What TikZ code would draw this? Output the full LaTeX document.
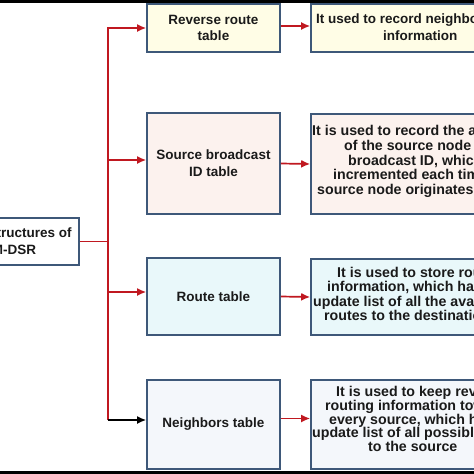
\documentclass[tikz,border=0pt]{standalone}
\usepackage{fontspec}
\setmainfont{Liberation Sans}
\usetikzlibrary{arrows.meta}
\begin{document}
\begin{tikzpicture}[x=1pt,y=-1pt,
  tbl/.style={draw=edgecol, line width=1.6pt, minimum width=133pt, inner sep=0pt, align=center, text=txtcol, font=\fontsize{13.5}{16.7}\selectfont\bfseries},
  descbox/.style={draw=edgecol, line width=1.6pt, minimum width=229pt, inner sep=0pt},
  desctext/.style={anchor=west, align=left, inner sep=0pt, text=txtcol, font=\fontsize{14.2}{14.6}\selectfont\bfseries},
  link/.style={draw=linkred, line width=1.7pt, -{Latex[length=9pt,width=8pt]}}]
\definecolor{edgecol}{HTML}{3E5879}
\definecolor{txtcol}{HTML}{1A1A1A}
\definecolor{linkred}{HTML}{C01820}
\definecolor{revfill}{HTML}{FFFDE6}
\definecolor{srcfill}{HTML}{FCF2EE}
\definecolor{rtfill}{HTML}{E9F8FA}
\definecolor{nbfill}{HTML}{F4F7FB}
\useasboundingbox (0,0) rectangle (474,474);
\clip (0,0) rectangle (474,474);
\fill[white] (0,0) rectangle (474,474);
\node[tbl, fill=white, minimum width=130pt, minimum height=47pt] (ds) at (14,241.5) {Data structures of\\M-DSR};
\node[tbl, fill=revfill, minimum height=48pt] (rev) at (213.5,28) {Reverse route\\table};
\node[tbl, fill=srcfill, minimum height=101pt] (src) at (213.5,163.5) {Source broadcast\\ID table};
\node[tbl, fill=rtfill, minimum height=77pt] (rt) at (213.5,296.5) {Route table};
\node[tbl, fill=nbfill, minimum height=89pt] (nb) at (213.5,424.5) {Neighbors table};
\node[descbox, fill=revfill, minimum height=48pt] (revinfo) at (425.5,28) {};
\node[descbox, fill=srcfill, minimum height=100pt] (srcinfo) at (425.5,164) {};
\node[descbox, fill=rtfill, minimum height=76pt] (rtinfo) at (425.5,297) {};
\node[descbox, fill=nbfill, minimum height=89pt] (nbinfo) at (425.5,424.5) {};
\node[desctext, font=\fontsize{13.5}{16.7}\selectfont\bfseries] (revtext) at (316,27.5) {It used to record neighbor\\\hspace*{67pt}information};
\node[desctext] (srctext) at (312,161.5) {It is used to record the address\\\hspace*{32pt}of the source node\\\hspace*{36pt}broadcast ID, which\\\hspace*{21pt}incremented each time\\\hspace*{5pt}source node originates};
\node[desctext, font=\fontsize{14.2}{14.3}\selectfont\bfseries] (rttext) at (313,294) {\hspace*{24pt}It is used to store route\\\hspace*{14pt}information, which has\\update list of all the available\\\hspace*{11pt}routes to the destination};
\node[desctext, font=\fontsize{14.2}{13.7}\selectfont\bfseries] (nbtext) at (312,419) {\hspace*{24pt}It is used to keep reverse\\\hspace*{13pt}routing information towards\\\hspace*{17pt}every source, which has\\update list of all possible\\\hspace*{56pt}to the source};
\coordinate (stop) at (108,28);
\coordinate (ssrc) at (108,160);
\coordinate (sds) at (108,241.5);
\coordinate (srt) at (108,292);
\coordinate (sbot) at (108,420);
\draw[linkred, line width=1.7pt] (ds.east) -- (sds);
\draw[link] (sbot) -- (stop) -- (rev.west);
\draw[link] (ssrc) -- (ssrc -| src.west);
\draw[link] (srt) -- (srt -| rt.west);
\draw[link, draw=black] (sbot) -- (sbot -| nb.west);
\draw[link] ([yshift=2pt]rev.east) -- ([yshift=2pt]revinfo.west);
\draw[link] (src.east) -- (srcinfo.west);
\draw[link] (rt.east) -- (rtinfo.west);
\draw[link] ([yshift=6pt]nb.east) -- ([yshift=6pt]nbinfo.west);
\fill[black] (0,0) rectangle (474,3);
\fill[black] (0,471) rectangle (474,474);
\end{tikzpicture}
\end{document}
